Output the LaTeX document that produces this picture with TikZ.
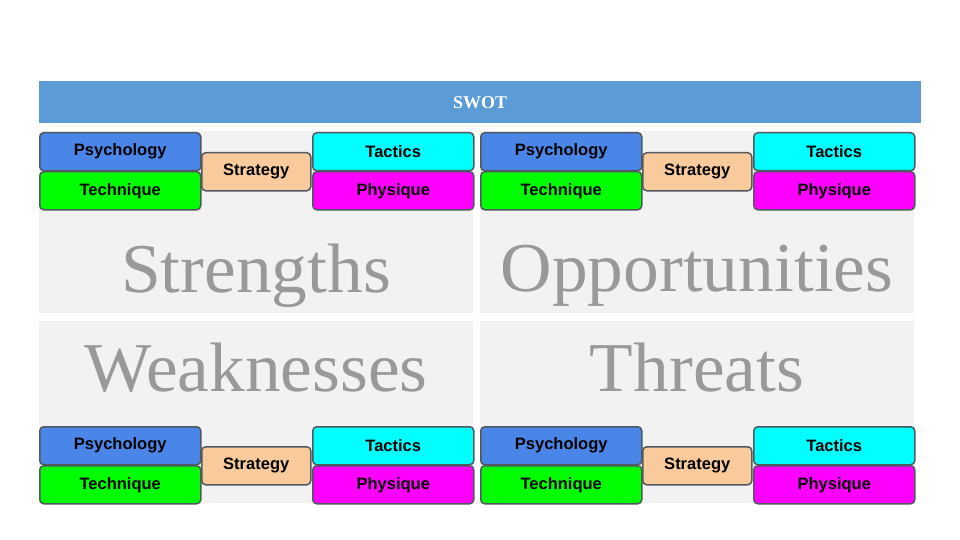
\documentclass[tikz,border=0pt]{standalone}
\usepackage{fontspec}
\setmainfont{Liberation Serif}
\newfontfamily\lsans{Liberation Sans}
\begin{document}
\begin{tikzpicture}[x=1pt,y=-1pt,
  quad/.style={fill=quadgray,draw=none,anchor=north west,inner sep=0pt,minimum width=434pt,minimum height=182pt},
  cbox/.style={draw=boxline,line width=1.5pt,rounded corners=4pt,anchor=north west,inner sep=0pt,minimum width=161pt,minimum height=38pt,font=\lsans\bfseries\fontsize{16.5}{18}\selectfont},
  sbox/.style={cbox,minimum width=109pt},
  big/.style={text=biggray,font=\fontsize{70}{80}\selectfont,xscale=1.02}]
\definecolor{quadgray}{HTML}{F2F2F2}
\definecolor{boxline}{HTML}{505860}
\definecolor{biggray}{HTML}{999999}
\definecolor{swot}{HTML}{5B9BD6}
\definecolor{psy}{HTML}{4A86E8}
\definecolor{str}{HTML}{F9CB9C}
\definecolor{cy}{HTML}{00FFFF}
\definecolor{mg}{HTML}{FF00FF}
\definecolor{gr}{HTML}{00FF00}
\useasboundingbox (0,0) rectangle (960,540);
\fill[white] (0,0) rectangle (960,540);
\node[fill=swot,anchor=north west,inner sep=0pt,minimum width=882pt,minimum height=42pt,text=white,font=\bfseries\fontsize{18}{20}\selectfont] (swot) at (39,81) {SWOT};
\node[quad] (qtl) at (39,131) {};
\node[quad] (qtr) at (480,131) {};
\node[quad] (qbl) at (39,321) {};
\node[quad] (qbr) at (480,321) {};
\foreach \n/\dx/\dy in {a/0/0, b/441/0, c/0/294, d/441/294}{
  \node[cbox,fill=psy] (psy\n) at (39+\dx,132+\dy) {Psychology};
  \node[cbox,fill=gr] (tec\n) at (39+\dx,171+\dy) {Technique};
  \node[sbox,fill=str] (str\n) at (201+\dx,152+\dy) {Strategy};
  \node[cbox,fill=cy] (tac\n) at (312+\dx,132+\dy) {Tactics};
  \node[cbox,fill=mg] (phy\n) at (312+\dx,171+\dy) {Physique};
}
\node[big] (s) at (256,276) {Strengths};
\node[big] (o) at (697,276) {Opportunities};
\node[big] (w) at (256,368) {Weaknesses};
\node[big] (t) at (697,368) {Threats};
\end{tikzpicture}
\end{document}
